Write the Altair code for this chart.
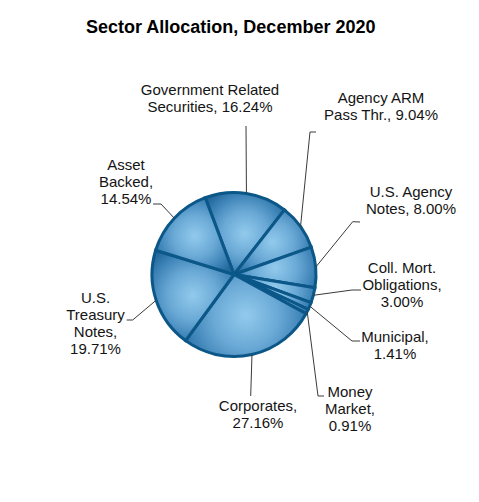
import math

import altair as alt
import pandas as pd

# --- data ------------------------------------------------------------------
sectors = [
    "Government Related Securities", "Agency ARM Pass Thr.", "U.S. Agency Notes",
    "Coll. Mort. Obligations", "Municipal", "Money Market", "Corporates",
    "U.S. Treasury Notes", "Asset Backed",
]
weights = [16.24, 9.04, 8.00, 3.00, 1.41, 0.91, 27.16, 19.71, 14.54]

# how each label is wrapped, and whether the percentage sits on its own line
wrapped = [
    "Government Related\nSecurities,", "Agency ARM\nPass Thr.,", "U.S. Agency\nNotes,",
    "Coll. Mort.\nObligations,", "Municipal,", "Money\nMarket,", "Corporates,",
    "U.S.\nTreasury\nNotes,", "Asset\nBacked,",
]
pct_own_line = [False, False, False, True, True, True, True, True, True]

# --- layout (pixels, relative to the pie centre) ----------------------------
W, H = 463, 446
CX, CY = 226, 226.5
R = 82
START = math.radians(-20.5)

elbow_x = [12, 76, 118.7, 118, 118, 84, 16.7, -101.3, -73]
elbow_y = [-148.5, -142.5, -52.8, 15.5, 66.5, 121.5, 121.5, 45.5, -70.5]
end_x = [12, 82, 126, 127, 126, 90, 16.7, -107.3, -81]
end_y = [-148.5, -142.5, -52.5, 15.5, 66.5, 121.5, 121.5, 45.5, -70.5]
text_x = [-24, 147, 177, 168, 161, 116, 24, -138.5, -108]
text_y = [-180, -171.2, -77.8, -1.2, 67.8, 122.2, 136.5, 28.2, -104.5]

labels = [
    f"{w}{chr(10) if own else ' '}{v:.2f}%"
    for w, own, v in zip(wrapped, pct_own_line, weights)
]

df = pd.DataFrame({
    "sector": sectors, "weight": weights, "idx": list(range(len(sectors))),
    "label": labels,
    "ex": elbow_x, "ey": elbow_y, "fx": end_x, "fy": end_y,
    "tx": text_x, "ty": text_y,
})

xs = alt.Scale(domain=[-CX, W - CX], nice=False, zero=False)
ys = alt.Scale(domain=[-CY, H - CY], nice=False, zero=False, reverse=True)

shade = alt.RadialGradient(
    gradient="radial",
    stops=[
        alt.GradientStop(offset=0, color="#92caec"),
        alt.GradientStop(offset=0.45, color="#6aa9d6"),
        alt.GradientStop(offset=0.8, color="#3b81b5"),
        alt.GradientStop(offset=1, color="#23689b"),
    ],
    x1=0.5, y1=0.5, x2=0.5, y2=0.5, r1=0, r2=0.6,
)

base = alt.Chart(df)

pie = base.mark_arc(
    outerRadius=R, fill=shade, stroke="#0b5788", strokeWidth=3
).encode(
    theta=alt.Theta("weight:Q", stack=True,
                    scale=alt.Scale(range=[START, START + 2 * math.pi])),
    order=alt.Order("idx:Q", sort="ascending"),
    x=alt.value(CX),
    y=alt.value(CY),
)

leader_start = base.transform_joinaggregate(
    total="sum(weight)"
).transform_window(
    cum="sum(weight)", sort=[alt.SortField("idx")], frame=[None, 0]
).transform_calculate(
    mid=f"{START} + 2 * PI * (datum.cum - datum.weight / 2) / datum.total",
    sx=f"{R} * sin(datum.mid)",
    sy=f"-{R} * cos(datum.mid)",
)

seg1 = leader_start.mark_rule(color="#3a3a3a", strokeWidth=1).encode(
    x=alt.X("sx:Q", scale=xs, axis=None),
    y=alt.Y("sy:Q", scale=ys, axis=None),
    x2="ex:Q",
    y2="ey:Q",
)

seg2 = base.mark_rule(color="#3a3a3a", strokeWidth=1).encode(
    x=alt.X("ex:Q", scale=xs, axis=None),
    y=alt.Y("ey:Q", scale=ys, axis=None),
    x2="fx:Q",
    y2="fy:Q",
)

text = base.mark_text(
    font="Liberation Sans", fontSize=15, lineBreak="\n", lineHeight=17,
    align="center", baseline="alphabetic", color="#141414",
).encode(
    x=alt.X("tx:Q", scale=xs, axis=None),
    y=alt.Y("ty:Q", scale=ys, axis=None),
    text="label:N",
)

chart = alt.layer(pie, seg1, seg2, text).properties(
    width=W,
    height=H,
    autosize="none",
    padding={"left": 0, "right": 0, "top": 40, "bottom": 0},
    title=alt.Title(
        "Sector Allocation, December 2020", anchor="start", dx=78,
        font="Liberation Sans", fontSize=18, fontWeight="bold", color="#000000",
        offset=11,
    ),
).configure_view(stroke=None)

chart.save("out.html", embed_options={"renderer": "svg", "actions": False})
